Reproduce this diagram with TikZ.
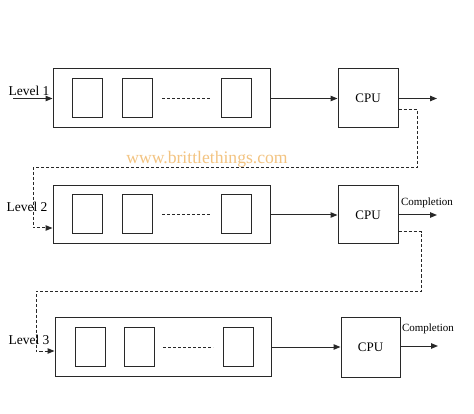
\documentclass[tikz,border=0pt]{standalone}
\usepackage{fontspec}
\setmainfont{Liberation Serif}
\usetikzlibrary{arrows.meta}
\definecolor{wmark}{RGB}{243,196,130}
\definecolor{ln}{RGB}{40,40,40}
\tikzset{
  box/.style={draw=ln,line width=1pt,inner sep=0pt},
  queuebox/.style={box,minimum width=217pt,minimum height=59pt},
  slot/.style={box,minimum width=30pt,minimum height=39pt},
  cpubox/.style={box,minimum width=60pt,minimum height=59pt,font=\fontsize{13}{15}\selectfont},
  arr/.style={draw=ln,line width=1pt,-{Triangle[length=7pt,width=5.5pt]}},
  fb/.style={draw=ln,line width=1pt,dash pattern=on 3pt off 2pt,-{Triangle[length=7pt,width=5.5pt]}},
  dots/.style={draw=ln,line width=1pt,dash pattern=on 3pt off 2pt},
  lvl/.style={inner sep=0pt,font=\fontsize{13.5}{15}\selectfont},
  compl/.style={inner sep=0pt,font=\fontsize{11}{13}\selectfont}
}
\begin{document}
\begin{tikzpicture}[x=1pt,y=-1pt]
\useasboundingbox[fill=white] (0,0) rectangle (474,414);
% watermark
\node[inner sep=0pt,text=wmark,font=\fontsize{17.6}{20}\selectfont] (wm) at (207,159) {www.brittlethings.com};
% row 1
\node[queuebox] (q1) at (161.5,98.5) {};
\node[slot] (s11) at (87.5,98.5) {};
\node[slot] (s12) at (137,98.5) {};
\node[slot] (s13) at (236.5,98.5) {};
\coordinate (d1a) at (162,99);
\coordinate (d1b) at (211,99);
\draw[dots] (d1a) -- (d1b);
\node[cpubox] (c1) at (368,98.5) {CPU};
\node[lvl] (l1) at (29,91) {Level 1};
\coordinate (in1) at (13,98.5);
\coordinate (out1) at (437,98.5);
\draw[arr] (in1) -- (q1.west);
\draw[arr] (q1.east) -- (c1.west);
\draw[arr] (c1.east) -- (out1);
% row 2
\node[queuebox,minimum height=58pt] (q2) at (161.5,215) {};
\node[slot] (s21) at (87.5,214.5) {};
\node[slot] (s22) at (137,214.5) {};
\node[slot] (s23) at (236.5,214.5) {};
\coordinate (d2a) at (162,215);
\coordinate (d2b) at (211,215);
\draw[dots] (d2a) -- (d2b);
\node[cpubox,minimum height=58pt] (c2) at (368,215) {CPU};
\node[lvl] (l2) at (27,207) {Level 2};
\node[compl] (k2) at (427,203) {Completion};
\coordinate (out2) at (437,215);
\draw[arr] (q2.east) -- (c2.west);
\draw[arr] (c2.east) -- (out2);
% row 3
\node[queuebox,minimum width=216pt] (q3) at (163,347) {};
\node[slot] (s31) at (90,347) {};
\node[slot] (s32) at (139,347) {};
\node[slot] (s33) at (238,347) {};
\coordinate (d3a) at (163,347);
\coordinate (d3b) at (213,347);
\draw[dots] (d3a) -- (d3b);
\node[cpubox,minimum width=59pt,minimum height=60pt] (c3) at (370.5,347) {CPU};
\node[lvl] (l3) at (29,340) {Level 3};
\node[compl] (k3) at (428,329) {Completion};
\coordinate (out3) at (438,346);
\draw[arr] (q3.east) -- (c3.west);
\draw[arr] (c3.east |- out3) -- (out3);
% feedback 1 -> 2
\coordinate (f1r) at (417,168);
\coordinate (f1l) at (33,228);
\draw[fb] ([yshift=-11pt]c1.east) -| (f1r) -| (f1l) -- (q2.west |- f1l);
% feedback 2 -> 3
\coordinate (f2r) at (421,291);
\coordinate (f2l) at (36,351);
\draw[fb] ([yshift=-17pt]c2.east) -| (f2r) -| (f2l) -- (q3.west |- f2l);
\end{tikzpicture}
\end{document}
